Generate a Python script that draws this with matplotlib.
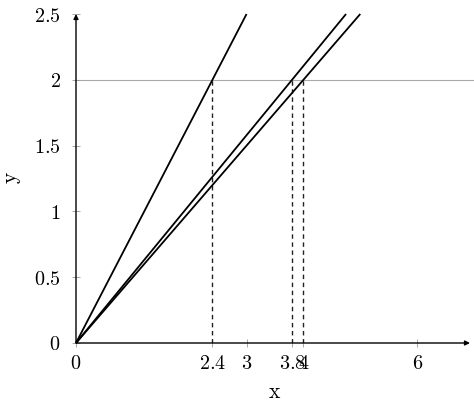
import matplotlib
matplotlib.use("Agg")
import matplotlib.pyplot as plt
import numpy as np

plt.rcParams['mathtext.fontset'] = 'cm'
plt.rcParams['font.family'] = 'serif'
plt.rcParams['font.serif'] = ['DejaVu Serif']

# Data
crossing_x = [2.4, 3.8, 4.0]          # x where each line reaches y = 2
level_y = 2.0
line_end_y = 2.5
xticks = [0, 2.4, 3, 3.8, 4, 6]
xticklabels = ['0', '2.4', '3', '3.8', '4', '6']
yticks = [0, 0.5, 1, 1.5, 2, 2.5]
yticklabels = ['0', '0.5', '1', '1.5', '2', '2.5']
xmax = 6.93
ymax = 2.5

fig = plt.figure(figsize=(4.74, 4.05), dpi=100)
ax = fig.add_axes([76/474, 1-343/405, (470-76)/474, (343-14)/405])
ax.set_xlim(0, xmax)
ax.set_ylim(0, ymax)

for s in ax.spines.values():
    s.set_visible(False)

# gray horizontal line at y=2 across to figure edge
ax.plot([0, xmax*1.02], [level_y, level_y], color='#aaaaaa', lw=0.8, clip_on=False, zorder=1)

for xc in crossing_x:
    slope = level_y / xc
    xe = line_end_y / slope
    ax.plot([0, xe], [0, line_end_y], color='black', lw=1.3, clip_on=False, zorder=3,
            solid_capstyle='butt')
    ax.plot([xc, xc], [0, level_y], color='#222222', lw=1.0, linestyle=(0, (3.2, 2.6)), zorder=2)

# axes with arrows
ax.annotate('', xy=(xmax, 0), xytext=(0, 0), xycoords='data',
            arrowprops=dict(arrowstyle='-|>', color='black', lw=1.0,
                            mutation_scale=7, shrinkA=0, shrinkB=0), annotation_clip=False)
ax.annotate('', xy=(0, ymax), xytext=(0, 0), xycoords='data',
            arrowprops=dict(arrowstyle='-|>', color='black', lw=1.0,
                            mutation_scale=7, shrinkA=0, shrinkB=0), annotation_clip=False)

ax.set_xticks(xticks)
ax.set_xticklabels(['$' + t + '$' for t in xticklabels], fontsize=14.5)
ax.set_yticks(yticks)
ax.set_yticklabels(['$' + t + '$' for t in yticklabels], fontsize=14.5)
ax.tick_params(axis='both', direction='inout', length=6, width=0.6, color='#999999')
ax.tick_params(axis='x', pad=5)
ax.tick_params(axis='y', pad=8)

fig.text(275/474, 1-392/405, r'$\mathrm{x}$', fontsize=15.5, ha='center', va='center')
fig.text(12/474, 1-178/405, r'$\mathrm{y}$', fontsize=15.5, ha='center', va='center', rotation=90)

fig.savefig('out.png', dpi=100)
